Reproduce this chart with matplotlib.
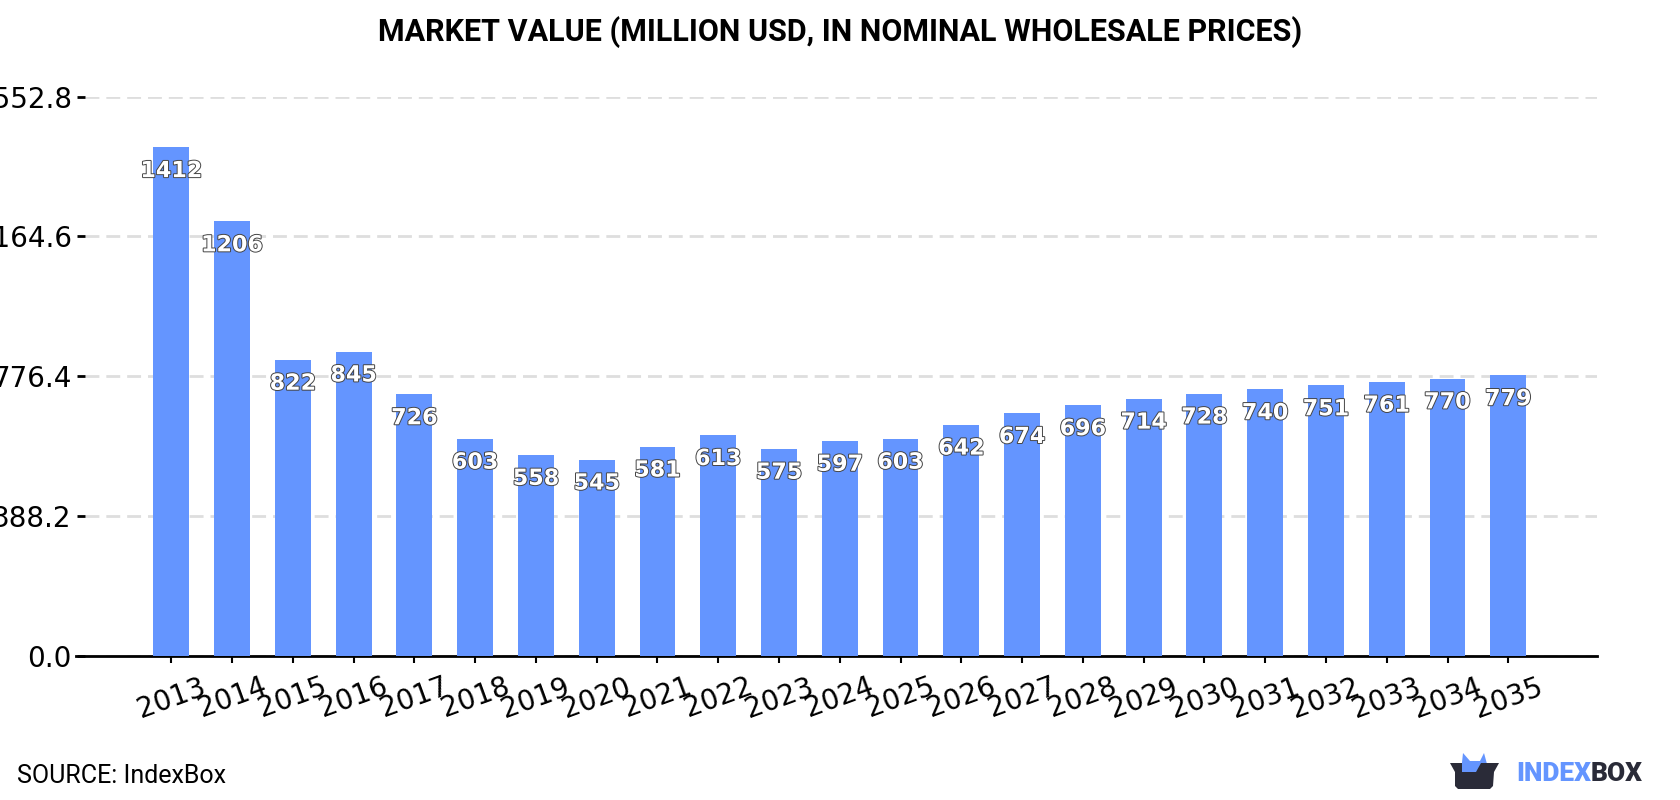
import matplotlib
matplotlib.use("Agg")
import matplotlib.pyplot as plt
import matplotlib.patheffects as pe
from matplotlib.patches import Polygon

years = [2013, 2014, 2015, 2016, 2017, 2018, 2019, 2020, 2021, 2022, 2023, 2024,
         2025, 2026, 2027, 2028, 2029, 2030, 2031, 2032, 2033, 2034, 2035]
values = [1412, 1206, 822, 845, 726, 603, 558, 545, 581, 613, 575, 597,
          603, 642, 674, 696, 714, 728, 740, 751, 761, 770, 779]
y_ticks = [0.0, 388.2, 776.4, 1164.6, 1552.8]

BLUE = "#6495ff"
DARK = "#2a2b38"
W, H = 1680, 800

fig = plt.figure(figsize=(W / 100, H / 100), dpi=100, facecolor="white")
ax = fig.add_axes([85 / W, 1 - 656 / H, (1597 - 85) / W, (656 - 96.5) / H])

positions = list(range(len(years)))
ax.bar(positions, values, width=0.59, color=BLUE, zorder=3)
ax.set_xlim(-1.42, 23.46)
ax.set_ylim(0, 1552.8)

ax.set_yticks(y_ticks)
ax.set_yticklabels([f"{t:.1f}" for t in y_ticks], fontsize=20, color="black")
ax.set_xticks(positions)
ax.set_xticklabels([str(y) for y in years], fontsize=20, rotation=20, color="black")
ax.tick_params(axis="y", length=6, width=2, pad=3.5)
ax.tick_params(axis="x", length=5, width=1.5, pad=7)
ax.yaxis.grid(True, linestyle=(0, (5, 2.5)), linewidth=2, color="#dedede", zorder=0)
ax.set_axisbelow(True)
for side in ("top", "right", "left"):
    ax.spines[side].set_visible(False)
ax.spines["bottom"].set_linewidth(2)
ax.spines["bottom"].set_bounds(-1.56, 23.46)

# Value labels sit just under each bar's top
for x, v in zip(positions, values):
    ax.annotate(str(v), (x, v), xytext=(0, -17.2), textcoords="offset points",
                ha="center", va="center", fontsize=16, fontweight="bold",
                color="white", zorder=5, clip_on=False,
                path_effects=[pe.withStroke(linewidth=1.4, foreground="#444444")])

fig.text(0.5, 1 - 32 / H, "MARKET VALUE (MILLION USD, IN NOMINAL WHOLESALE PRICES)",
         ha="center", va="center", family="Roboto", fontweight="bold", fontsize=22, color="black")
fig.text(17 / W, 1 - 776 / H, "SOURCE: IndexBox", ha="left", va="center",
         family="Roboto", fontsize=18, color="black")

# Brand mark, placed in figure pixels
def px(points):
    return [(x / W, 1 - y / H) for x, y in points]

fig.add_artist(Polygon(px([(1461, 772), (1463, 753), (1470, 761), (1480, 761), (1484, 753), (1487, 764), (1487, 772)]),
                       closed=True, facecolor=BLUE, edgecolor="none", transform=fig.transFigure, zorder=3))
fig.add_artist(Polygon(px([(1450, 763), (1462, 763), (1462, 772), (1476, 772), (1481, 763), (1499, 763),
                           (1494, 772), (1493, 786), (1490, 789), (1458, 789), (1455, 786), (1455, 772)]),
                       closed=True, facecolor=DARK, edgecolor="none", transform=fig.transFigure, zorder=4))
brand_a = fig.text(1516 / W, 1 - 774 / H, "INDEX", ha="left", va="center", family="Roboto",
                   fontweight="black", fontsize=19, color=BLUE)
fig.canvas.draw()
bb = brand_a.get_window_extent()
fig.text(bb.x1 / W, 1 - 774 / H, "BOX", ha="left", va="center", family="Roboto",
         fontweight="black", fontsize=19, color=DARK)

fig.savefig("out.png", dpi=100, facecolor="white")
